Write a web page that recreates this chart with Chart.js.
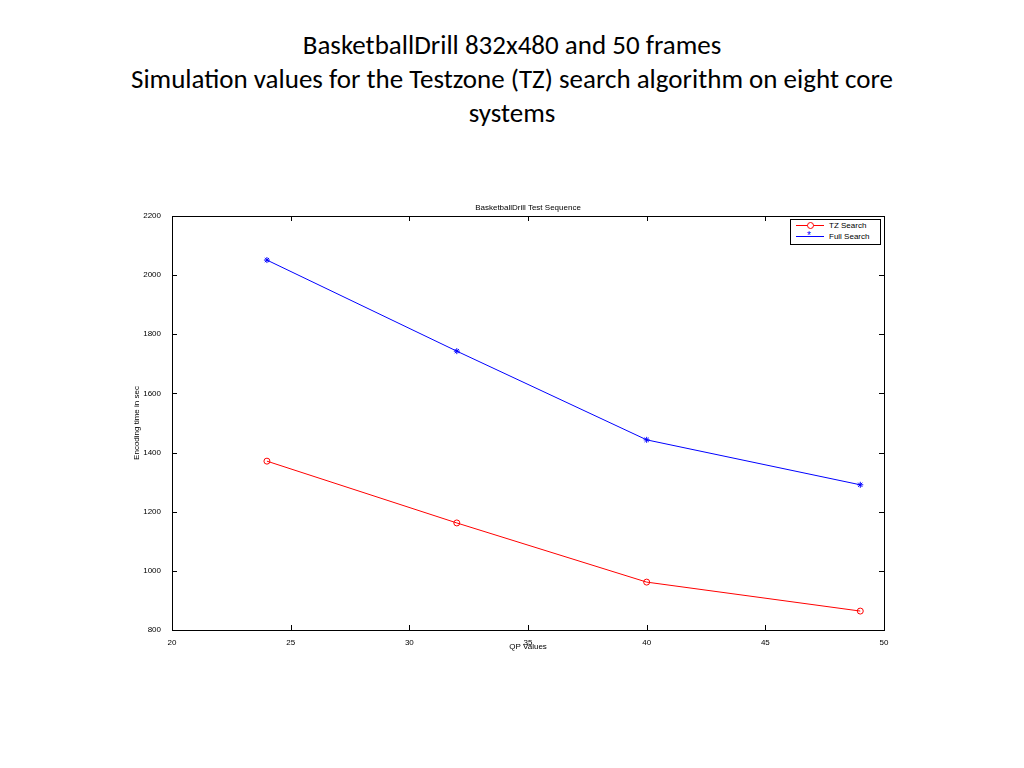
<!DOCTYPE html>
<html><head><meta charset="utf-8">
<script src="https://cdn.jsdelivr.net/npm/chart.js@4"></script>
<style>
body{margin:0;width:1024px;height:768px;background:#fff;position:relative;overflow:hidden;font-family:Carlito,Calibri,"Open Sans",sans-serif}
#t{position:absolute;top:28px;left:0;width:1024px;text-align:center;font-size:27px;line-height:34px;color:#000;font-family:Carlito,Calibri,Lato,sans-serif}
#st{position:absolute;top:203px;left:172px;width:712px;text-align:center;font:8px "Liberation Sans",Arial,sans-serif}
#lg{position:absolute;top:219px;left:790px;width:89px;height:24px;border:1px solid #000;background:#fff;font:8px "Liberation Sans",Arial,sans-serif;color:#000}
#lg div{position:relative;height:11px;line-height:11px;padding-left:38px}
#lg span{position:absolute;left:5px;top:5px;width:28px;height:1px}
#lg i{position:absolute;left:16px;top:2px;width:5px;height:5px;font-style:normal}
#c{position:absolute;left:0;top:0}
</style></head><body>
<div id="t">BasketballDrill 832x480 and 50 frames<br>Simulation values for the Testzone (TZ) search algorithm on eight core<br>systems</div>
<canvas id="c" width="1024" height="768"></canvas>
<div id="st">BasketballDrill Test Sequence</div>
<div id="lg"><div><span style="background:red"></span><i style="border:1px solid red;border-radius:50%;background:#fff"></i>TZ Search</div><div><span style="background:blue"></span><i style="top:0;color:blue;font-size:10px;line-height:10px">*</i>Full Search</div></div>
<script>
const qpValues = [24, 32, 40, 49];
const tzSearch = [1371, 1162, 962, 864];
const fullSearch = [2051, 1743, 1443, 1291];
const xTicks = [20, 25, 30, 35, 40, 45, 50];
const yTicks = [800, 1000, 1200, 1400, 1600, 1800, 2000, 2200];

const frame = {
  id: 'frame',
  afterDraw(chart) {
    const { ctx, chartArea: a, scales } = chart;
    ctx.save();
    ctx.strokeStyle = '#000';
    ctx.lineWidth = 1;
    ctx.strokeRect(a.left + 0.5, a.top + 0.5, a.right - a.left, a.bottom - a.top);
    ctx.beginPath();
    xTicks.forEach(v => {
      const x = Math.round(scales.x.getPixelForValue(v)) + 0.5;
      ctx.moveTo(x, a.bottom); ctx.lineTo(x, a.bottom - 5);
      ctx.moveTo(x, a.top); ctx.lineTo(x, a.top + 5);
    });
    yTicks.forEach(v => {
      const y = Math.round(scales.y.getPixelForValue(v)) + 0.5;
      ctx.moveTo(a.left, y); ctx.lineTo(a.left + 5, y);
      ctx.moveTo(a.right, y); ctx.lineTo(a.right - 5, y);
    });
    ctx.stroke();
    ctx.restore();
  }
};

const font = { size: 8, family: '"Liberation Sans", Arial, sans-serif' };
new Chart(document.getElementById('c'), {
  type: 'line',
  data: {
    datasets: [
      { label: 'TZ Search', data: qpValues.map((x, i) => ({ x, y: tzSearch[i] })), borderColor: 'red', backgroundColor: 'transparent', borderWidth: 1, pointStyle: 'circle', pointRadius: 3, pointBorderColor: 'red', pointBorderWidth: 1, tension: 0 },
      { label: 'Full Search', data: qpValues.map((x, i) => ({ x, y: fullSearch[i] })), borderColor: 'blue', backgroundColor: 'transparent', borderWidth: 1, pointStyle: 'star', pointRadius: 3, pointBorderColor: 'blue', pointBorderWidth: 1, tension: 0 }
    ]
  },
  options: {
    responsive: false,
    animation: false,
    layout: { padding: { top: 216, left: 130, right: 140, bottom: 116 } },
    plugins: { legend: { display: false }, tooltip: { enabled: false } },
    scales: {
      x: {
        type: 'linear', min: 20, max: 50,
        afterBuildTicks: s => { s.ticks = xTicks.map(v => ({ value: v })); },
        afterFit: s => { s.height = 22; },
        grid: { display: false }, border: { display: false },
        ticks: { color: '#000', font, padding: 0, maxRotation: 0, callback: v => String(v) },
        title: { display: true, text: 'QP Values', color: '#000', font, padding: 0 }
      },
      y: {
        min: 800, max: 2200,
        afterBuildTicks: s => { s.ticks = yTicks.map(v => ({ value: v })); },
        afterFit: s => { s.width = 42; },
        grid: { display: false }, border: { display: false },
        ticks: { color: '#000', font, padding: 3, callback: v => String(v) },
        title: { display: true, text: 'Encoding time in sec', color: '#000', font, padding: 2 }
      }
    }
  },
  plugins: [frame]
});
</script>
</body></html>
